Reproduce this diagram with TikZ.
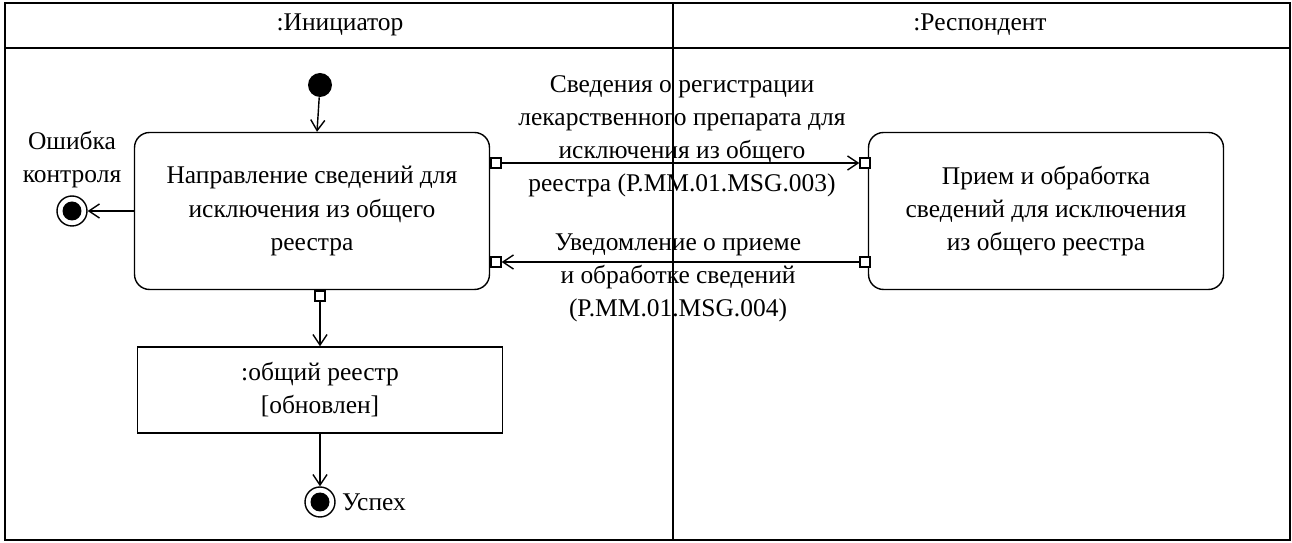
\documentclass[tikz,border=0pt]{standalone}
\usepackage{fontspec}
\setmainfont{Liberation Serif}
\usetikzlibrary{arrows.meta}
\begin{document}
\begin{tikzpicture}[x=0.02cm,y=-0.02cm,
  every node/.style={font=\fontsize{14.5}{18.8}\selectfont,align=center},
  act/.style={draw,rounded corners=0.3cm,minimum width=7.1cm,minimum height=3.14cm,thick},
  obj/.style={draw,minimum width=7.3cm,minimum height=1.72cm,thick},
  pin/.style={draw,fill=white,minimum size=0.2cm,inner sep=0pt,thick},
  flow/.style={thick,-{Straight Barb[length=6pt,width=8pt]}},
  fin/.style={circle,draw,thick,minimum size=0.6cm,inner sep=0pt},
  dot/.style={circle,fill,minimum size=0.38cm,inner sep=0pt}]
\useasboundingbox (0,0) rectangle (1292,543);
\draw[thick] (5,3) rectangle (1290,540);
\draw[thick] (5,48) -- (1290,48);
\draw[thick] (673,3) -- (673,540);
\node (h1) at (340,25) {:Инициатор};
\node (h2) at (980,25) {:Респондент};
\node[circle,fill,minimum size=0.48cm,inner sep=0pt] (init) at (320,85) {};
\node[act] (A) at (312,211) {Направление сведений для\\исключения из общего\\реестра};
\node[act] (B) at (1046,211) {Прием и обработка\\сведений для исключения\\из общего реестра};
\node[pin] (pa1) at (496,163) {};
\node[pin] (pb1) at (865,163) {};
\node[pin] (pb2) at (865,262) {};
\node[pin] (pa2) at (496,262) {};
\node[pin] (pa3) at (320,296) {};
\node[obj] (O) at (320,390) {:общий реестр\\{[обновлен]}};
\node[fin] (f1) at (72,211) {};
\node[dot] at (f1) {};
\node[fin] (f2) at (320,502) {};
\node[dot] at (f2) {};
\node (err) at (72,160) {Ошибка\\контроля};
\node[anchor=west] (ok) at (336,502) {Успех};
\node (m1) at (682,136) {Сведения о регистрации\\лекарственного препарата для\\исключения из общего\\реестра (P.MM.01.MSG.003)};
\node (m2) at (678,278) {Уведомление о приеме\\и обработке сведений\\(P.MM.01.MSG.004)};
\draw[flow] (init) -- (A);
\draw[flow] (pa1) -- (pb1);
\draw[flow] (pb2) -- (pa2);
\draw[flow] (A.west) -- (f1);
\draw[flow] (pa3) -- (O);
\draw[flow] (O) -- (f2);
\end{tikzpicture}
\end{document}
